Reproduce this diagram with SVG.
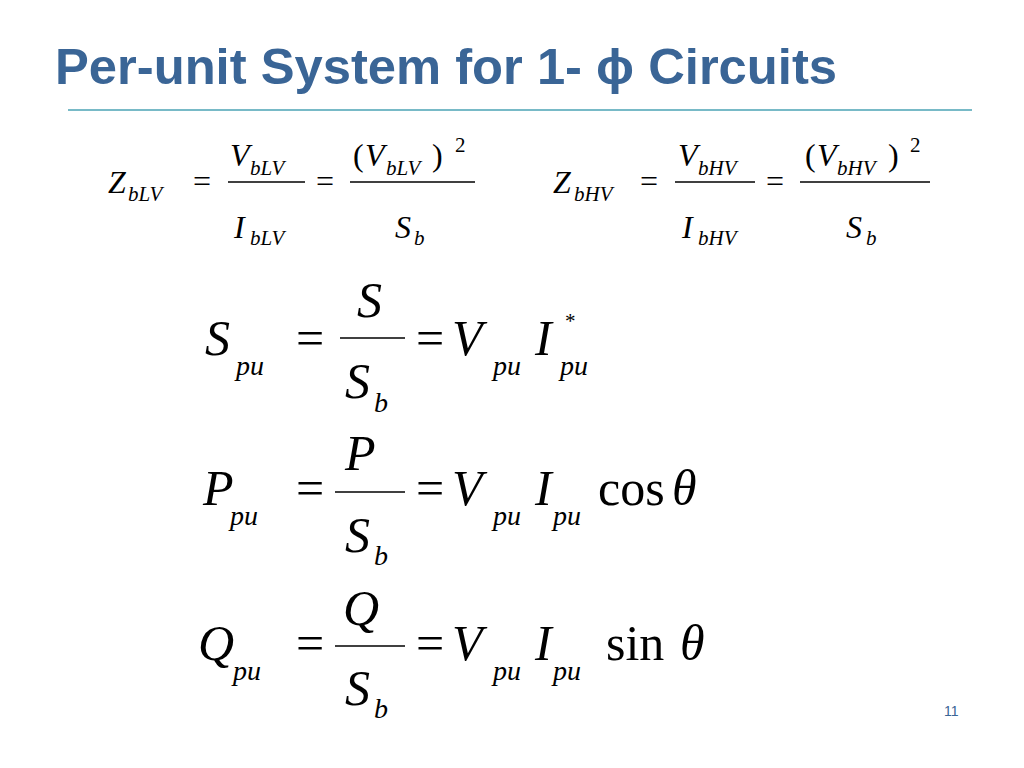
<svg xmlns="http://www.w3.org/2000/svg" width="1024" height="768" viewBox="0 0 1024 768">
<style>
.t{font-family:'Liberation Sans',Arial,sans-serif;font-weight:bold;fill:#3A6596}
.m{font-family:'Liberation Serif','Times New Roman','DejaVu Serif',serif;font-style:italic;fill:#000}
.u{font-family:'Liberation Serif','Times New Roman','DejaVu Serif',serif;fill:#000}
.a{font-size:32px}.as{font-size:21px}
.b{font-size:50px}.bs{font-size:28px}
.fl{stroke:#000;stroke-width:1.5}
</style>
<rect width="1024" height="768" fill="#fff"/>
<text class="t" x="55" y="84" font-size="50" textLength="782" lengthAdjust="spacingAndGlyphs">Per-unit System for 1- ϕ Circuits</text>
<line x1="68" y1="110" x2="972" y2="110" stroke="#4BA3B5" stroke-width="1.5"/>
<g id="row1">
<text class="m a" x="108" y="193">Z</text><text class="m as" x="128" y="201">bLV</text>
<text class="u a" x="193" y="192">=</text>
<text class="m a" x="230" y="166">V</text><text class="m as" x="250" y="175">bLV</text>
<line class="fl" x1="228" y1="182" x2="305" y2="182"/>
<text class="m a" x="234" y="238">I</text><text class="m as" x="250" y="245">bLV</text>
<text class="u a" x="316" y="192">=</text>
<text class="u a" x="353" y="166">(</text><text class="m a" x="365" y="166">V</text><text class="m as" x="386" y="175">bLV</text><text class="u a" x="432" y="166">)</text><text class="u as" x="455" y="152">2</text>
<line class="fl" x1="350" y1="182" x2="475" y2="182"/>
<text class="m a" x="395" y="238">S</text><text class="m as" x="414" y="245">b</text>
<text class="m a" x="553" y="193">Z</text><text class="m as" x="574" y="201">bHV</text>
<text class="u a" x="640" y="192">=</text>
<text class="m a" x="678" y="166">V</text><text class="m as" x="698" y="175">bHV</text>
<line class="fl" x1="675" y1="182" x2="755" y2="182"/>
<text class="m a" x="682" y="238">I</text><text class="m as" x="698" y="245">bHV</text>
<text class="u a" x="766" y="192">=</text>
<text class="u a" x="805" y="166">(</text><text class="m a" x="817" y="166">V</text><text class="m as" x="837" y="175">bHV</text><text class="u a" x="888" y="166">)</text><text class="u as" x="910" y="152">2</text>
<line class="fl" x1="800" y1="182" x2="930" y2="182"/>
<text class="m a" x="846" y="238">S</text><text class="m as" x="866" y="245">b</text>
</g>
<g id="row2">
<text class="m b" x="205" y="355">S</text><text class="m bs" x="236" y="375">pu</text>
<text class="u b" x="296" y="355">=</text>
<text class="m b" x="357" y="317">S</text>
<line class="fl" x1="340" y1="338" x2="405" y2="338"/>
<text class="m b" x="345" y="398">S</text><text class="m bs" x="374" y="412">b</text>
<text class="u b" x="416" y="355">=</text>
<text class="m b" x="452" y="355">V</text><text class="m bs" x="493" y="375">pu</text>
<text class="m b" x="535" y="355">I</text><text class="u as" x="565" y="328">*</text><text class="m bs" x="560" y="375">pu</text>
</g>
<g id="row3">
<text class="m b" x="203" y="505">P</text><text class="m bs" x="230" y="525">pu</text>
<text class="u b" x="296" y="505">=</text>
<text class="m b" x="345" y="470">P</text>
<line class="fl" x1="335" y1="492" x2="405" y2="492"/>
<text class="m b" x="345" y="552">S</text><text class="m bs" x="374" y="565">b</text>
<text class="u b" x="416" y="505">=</text>
<text class="m b" x="452" y="505">V</text><text class="m bs" x="493" y="525">pu</text>
<text class="m b" x="535" y="505">I</text><text class="m bs" x="553" y="525">pu</text>
<text class="u b" x="598" y="505">cos</text><text class="m b" x="672" y="505">θ</text>
</g>
<g id="row4">
<text class="m b" x="198" y="660">Q</text><text class="m bs" x="233" y="680">pu</text>
<text class="u b" x="296" y="660">=</text>
<text class="m b" x="343" y="625">Q</text>
<line class="fl" x1="335" y1="646" x2="405" y2="646"/>
<text class="m b" x="345" y="705">S</text><text class="m bs" x="374" y="718">b</text>
<text class="u b" x="416" y="660">=</text>
<text class="m b" x="452" y="660">V</text><text class="m bs" x="493" y="680">pu</text>
<text class="m b" x="535" y="660">I</text><text class="m bs" x="553" y="680">pu</text>
<text class="u b" x="606" y="660">sin</text><text class="m b" x="680" y="660">θ</text>
</g>
<text x="944" y="716" font-family="'Liberation Sans',Arial,sans-serif" font-size="14" fill="#3A6596">11</text>
</svg>
